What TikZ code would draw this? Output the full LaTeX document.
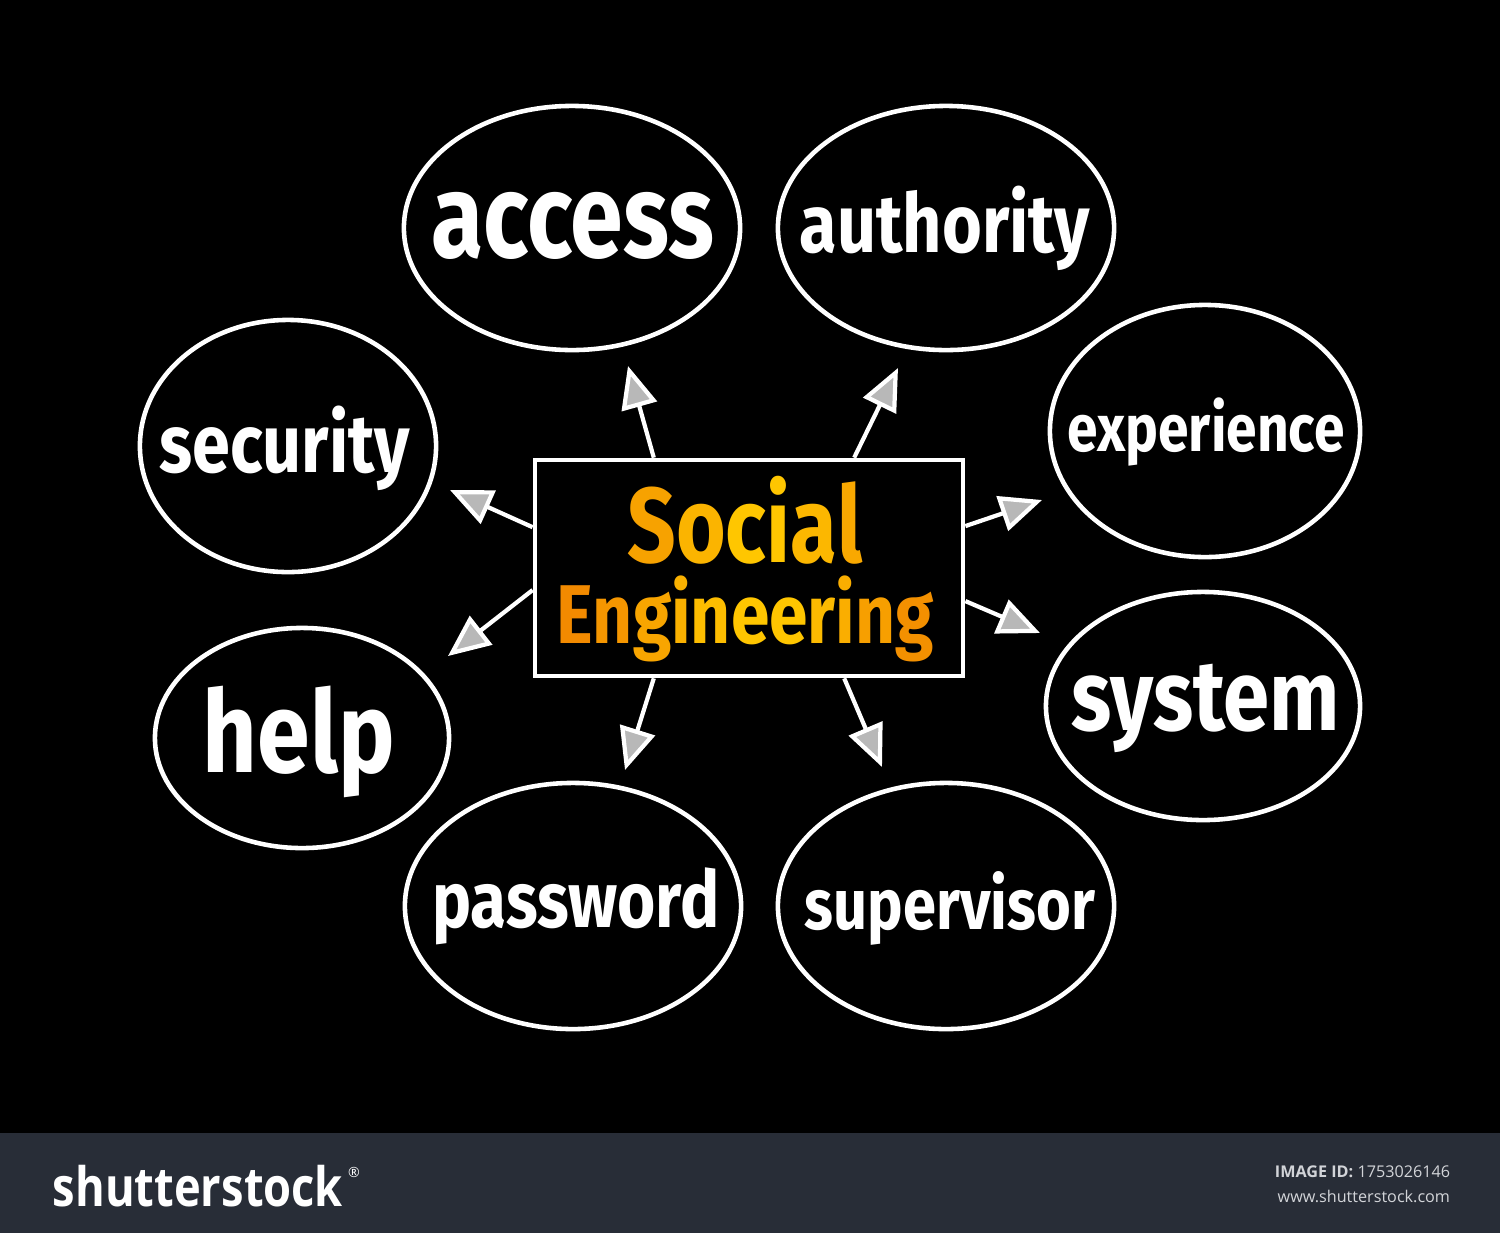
\documentclass[tikz,border=0pt]{standalone}
\usepackage{fontspec}
\usepackage{graphicx}
\setmainfont{Fira Sans}
\newfontfamily\logofont{Open Sans}
\usetikzlibrary{arrows.meta,calc,shapes.geometric}

\definecolor{bgbar}{HTML}{282D37}
\definecolor{seor}{HTML}{F28A00}
\definecolor{seye}{HTML}{FFC600}
\definecolor{idgray}{HTML}{D2D4D8}
\definecolor{headfill}{HTML}{B8B8B8}

\newcommand{\gl}[2]{\textcolor{seye!#1!seor}{#2}}
\newcommand{\lbl}[3]{\scalebox{1}[#2]{\resizebox{#1}{!}{\bfseries #3}}}

\begin{document}
\begin{tikzpicture}[x=0.01cm,y=-0.01cm,
  bubble/.style={ellipse, draw=white, line width=1.3pt, inner sep=0pt},
  word/.style={inner sep=0pt, outer sep=0pt, text=white},
  centerbox/.style={rectangle, draw=white, line width=1.3pt, inner sep=0pt, minimum width=4.28cm, minimum height=2.16cm},
  link/.style={draw=white, line width=1.2pt, -{Triangle[length=0.42cm, width=0.36cm, line width=1.2pt, fill=headfill]}},
  plain/.style={inner sep=0pt, outer sep=0pt}
]
\useasboundingbox (0,0) rectangle (1500,1233);
\fill[black] (0,0) rectangle (1500,1133);
\fill[bgbar] (0,1133) rectangle (1500,1233);

% central box
\node[centerbox] (se) at (749,568) {};
\node[plain, align=center] (title) at (745,569) {\lbl{2.35cm}{1.25}{\gl{40}{S}\gl{70}{o}\gl{100}{c}\gl{100}{i}\gl{75}{a}\gl{50}{l}}\\[0.08cm]\lbl{3.77cm}{1.2}{\gl{0}{E}\gl{20}{n}\gl{45}{g}\gl{65}{i}\gl{85}{n}\gl{100}{e}\gl{100}{e}\gl{80}{r}\gl{60}{i}\gl{35}{n}\gl{10}{g}}};

% bubbles
\node[bubble, minimum width=3.36cm, minimum height=2.44cm] (access) at (572,228) {};
\node[bubble, minimum width=3.36cm, minimum height=2.44cm] (authority) at (946,228) {};
\node[bubble, minimum width=2.96cm, minimum height=2.52cm] (security) at (288,446) {};
\node[bubble, minimum width=3.10cm, minimum height=2.52cm] (experience) at (1205,431) {};
\node[bubble, minimum width=2.94cm, minimum height=2.20cm] (help) at (302,738) {};
\node[bubble, minimum width=3.14cm, minimum height=2.28cm] (system) at (1203,706) {};
\node[bubble, minimum width=3.36cm, minimum height=2.46cm] (password) at (573,906) {};
\node[bubble, minimum width=3.36cm, minimum height=2.46cm] (supervisor) at (946,906) {};

\node[word] (accessT) at (573,226) {\lbl{2.83cm}{1.25}{access}};
\node[word] (authorityT) at (945,228) {\lbl{2.9cm}{1.2}{authority}};
\node[word] (securityT) at (285,448) {\lbl{2.5cm}{1.2}{security}};
\node[word] (experienceT) at (1206,432) {\lbl{2.77cm}{1.2}{experience}};
\node[word] (helpT) at (299,742) {\lbl{1.92cm}{1.2}{help}};
\node[word] (systemT) at (1206,708) {\lbl{2.68cm}{1.2}{system}};
\node[word] (passwordT) at (576,906) {\lbl{2.87cm}{1.2}{password}};
\node[word] (supervisorT) at (950,908) {\lbl{2.9cm}{1.2}{supervisor}};

% arrow tips (free ends)
\coordinate (tAccess) at (628,366);
\coordinate (tAuthority) at (898,368);
\coordinate (tSecurity) at (450,490);
\coordinate (tExperience) at (1042,500);
\coordinate (tHelp) at (448,656);
\coordinate (tSystem) at (1040,633);
\coordinate (tPassword) at (625,770);
\coordinate (tSupervisor) at (882,767);

\draw[link] ($(se.north west)!0.28!(se.north east)$) -- (tAccess);
\draw[link] ($(se.north west)!0.743!(se.north east)$) -- (tAuthority);
\draw[link] ($(se.north west)!0.315!(se.south west)$) -- (tSecurity);
\draw[link] ($(se.north east)!0.31!(se.south east)$) -- (tExperience);
\draw[link] ($(se.north west)!0.60!(se.south west)$) -- (tHelp);
\draw[link] ($(se.north east)!0.65!(se.south east)$) -- (tSystem);
\draw[link] ($(se.south west)!0.28!(se.south east)$) -- (tPassword);
\draw[link] ($(se.south west)!0.72!(se.south east)$) -- (tSupervisor);

% bottom bar
\node[plain, text=white] (logo) at (198,1186) {\logofont\scalebox{1}[1.2]{\resizebox{2.9cm}{!}{\bfseries shutterstock}}};
\node[plain, text=white, anchor=south west, font=\logofont\fontsize{4}{5}\selectfont] (reg) at (348,1178) {®};
\node[plain, text=idgray, anchor=east, font=\logofont\fontsize{4.6}{6}\selectfont] (imgid) at (1450,1172) {\textbf{IMAGE ID:} 1753026146};
\node[plain, text=idgray, anchor=east, font=\logofont\fontsize{4.6}{6}\selectfont] (www) at (1450,1196) {www.shutterstock.com};
\end{tikzpicture}
\end{document}
